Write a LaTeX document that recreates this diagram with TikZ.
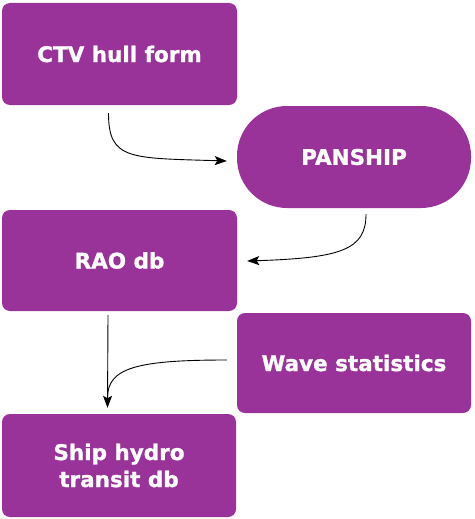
\documentclass[tikz,border=0pt]{standalone}
\usepackage{fontspec}
\setmainfont{DejaVu Sans}[BoldFeatures={FakeBold=1.2}]
\usetikzlibrary{arrows.meta}
\definecolor{boxpurple}{RGB}{153,51,153}
\begin{document}
\begin{tikzpicture}[x=1pt,y=-1pt,
  box/.style={fill=boxpurple, draw=none, rounded corners=8pt, inner sep=0pt,
    text=white, font=\bfseries\fontsize{21.5}{27}\selectfont, align=center},
  stadium/.style={box, rounded corners=50pt},
  arr/.style={draw=black, line width=0.9pt, -{Stealth[length=12pt,width=9pt,inset=2.5pt]}},
  link/.style={draw=black, line width=0.9pt}]
\useasboundingbox (0,0) rectangle (474,519);
\node[box, minimum width=235pt, minimum height=102pt] (ctv) at (119.5,54) {CTV hull form};
\node[stadium, minimum width=234pt, minimum height=102pt] (panship) at (354,157) {PANSHIP};
\node[box, minimum width=235pt, minimum height=101pt] (rao) at (119.5,260.5) {RAO db};
\node[box, minimum width=234pt, minimum height=100pt] (wave) at (354,363) {Wave statistics};
\node[box, minimum width=234pt, minimum height=103pt] (ship) at (119,465.5) {Ship hydro\\transit db};
\draw[arr] ([shift={(-11,8)}]ctv.south) .. controls +(0,47) and +(-97,-3) .. ([shift={(-10,4)}]panship.west);
\draw[arr] ([shift={(12,6)}]panship.south) .. controls +(0,36) and +(93,-3) .. ([shift={(10,0.5)}]rao.east);
\draw[arr] ([shift={(-11.5,4)}]rao.south) -- ([shift={(-11.5,-6)}]ship.north);
\coordinate (join) at ([shift={(-11.5,-16)}]ship.north);
\draw[link] ([shift={(-10,-3)}]wave.west) .. controls +(-90,0) and +(0,-30) .. (join);
\end{tikzpicture}
\end{document}
